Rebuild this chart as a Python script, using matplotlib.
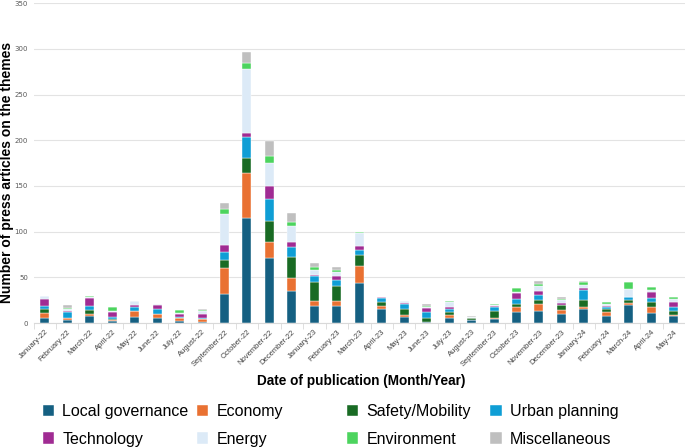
import matplotlib
matplotlib.use("Agg")
import matplotlib.pyplot as plt
from matplotlib import font_manager
import numpy as np

# meses de publicacion
meses = ["January-22", "February-22", "March-22", "April-22", "May-22", "June-22",
         "July-22", "August-22", "September-22", "October-22", "November-22",
         "December-22", "January-23", "February-23", "March-23", "April-23",
         "May-23", "June-23", "July-23", "August-23", "September-23",
         "October-23", "November-23", "December-23", "January-24",
         "February-24", "March-24", "April-24", "May-24"]

temas = ["Local governance", "Economy", "Safety/Mobility", "Urban planning",
         "Technology", "Energy", "Environment", "Miscellaneous"]

local_governance = [5, 3, 8, 2, 7, 6, 2, 1, 32, 115, 71, 35, 19, 19, 44, 15, 7, 1, 6, 3, 4, 12, 13, 10, 15, 8, 20, 11, 8]
economy = [6, 2, 2, 1, 6, 4, 3, 3, 28, 49, 18, 14, 5, 5, 18, 4, 2, 0, 3, 0, 2, 6, 8, 4, 2, 4, 2, 7, 1]
safety_mobility = [4, 1, 4, 1, 0, 0, 1, 0, 9, 17, 23, 23, 21, 16, 12, 4, 6, 4, 3, 3, 7, 3, 4, 6, 8, 3, 3, 5, 4]
urban_planning = [4, 6, 5, 3, 5, 5, 1, 2, 9, 22, 24, 11, 6, 7, 6, 4, 6, 7, 3, 0, 5, 5, 6, 0, 11, 2, 3, 4, 5]
technology = [7, 1, 8, 5, 2, 5, 3, 4, 7, 5, 14, 6, 1, 4, 4, 1, 1, 4, 3, 0, 1, 7, 4, 2, 2, 2, 1, 7, 5]
energy = [4, 2, 1, 1, 4, 1, 1, 3, 34, 70, 25, 17, 6, 5, 15, 0, 2, 2, 5, 1, 1, 1, 6, 3, 4, 2, 8, 2, 3]
environment = [0, 1, 2, 4, 0, 0, 3, 1, 6, 6, 8, 4, 3, 2, 1, 0, 0, 1, 1, 0, 1, 4, 2, 1, 3, 2, 8, 3, 3]
miscellaneous = [0, 4, 0, 0, 0, 0, 0, 1, 6, 12, 16, 10, 5, 3, 0, 0, 0, 2, 0, 1, 0, 0, 3, 3, 1, 0, 0, 0, 0]

series = [local_governance, economy, safety_mobility, urban_planning,
          technology, energy, environment, miscellaneous]
colores = ["#156082", "#e97132", "#196b24", "#0f9ed5",
           "#a02b93", "#dceaf7", "#4cd45e", "#bfbfbf"]


def hay_fuente(nombre):
    try:
        font_manager.findfont(font_manager.FontProperties(family=nombre),
                              fallback_to_default=False)
        return True
    except Exception:
        return False


fuente = "Liberation Sans" if hay_fuente("Liberation Sans") else "DejaVu Sans"

fig = plt.figure(figsize=(6.85, 4.48), dpi=100)
ax = fig.add_axes([0.049, 0.279, 0.951, 0.714])

x = np.arange(len(meses))
base = np.zeros(len(meses))
barras = []
for nombre, valores, color in zip(temas, series, colores):
    valores = np.array(valores, dtype=float)
    b = ax.bar(x, valores, 0.4, bottom=base, color=color, label=nombre,
               edgecolor="white", linewidth=0.3)
    barras.append(b)
    base += valores

ax.set_xlim(-0.5, len(meses) - 0.5)
ax.set_ylim(0, 350)
ax.set_yticks(np.arange(0, 351, 50))
ax.yaxis.grid(True, color="#e3e3e3", linewidth=0.8)
ax.set_axisbelow(True)
for s in ["top", "right", "left"]:
    ax.spines[s].set_visible(False)
ax.spines["bottom"].set_color("#d9d9d9")

ax.tick_params(axis="y", length=0, labelsize=5, labelcolor="#595959", pad=4)
ax.set_xticks(x)
ax.set_xticklabels(meses, rotation=45, ha="right", rotation_mode="anchor",
                   fontsize=5.5, color="#404040", family=fuente)
ax.set_xticks(np.arange(-0.5, len(meses), 1), minor=True)
ax.tick_params(axis="x", which="major", length=0, pad=4)
ax.tick_params(axis="x", which="minor", length=4, color="#d9d9d9")

fig.text(0.0095, 0.616, "Number of press articles on the themes", rotation=90,
         ha="center", va="center", fontsize=10, fontweight="bold", family=fuente)
fig.text(0.527, 0.150, "Date of publication (Month/Year)", ha="center",
         va="center", fontsize=9.8, fontweight="bold", family=fuente)

# leyenda en 4 columnas de ancho fijo, como en Excel
cols_x = [0.063, 0.288, 0.507, 0.716]
for i, cx in enumerate(cols_x):
    fig.legend([barras[i], barras[i + 4]], [temas[i], temas[i + 4]],
               loc="center left", bbox_to_anchor=(cx, 0.051),
               frameon=False, prop={"family": fuente, "size": 11.5},
               handlelength=0.7, handleheight=0.7, handletextpad=0.5,
               labelspacing=0.8, borderpad=0, borderaxespad=0)

fig.savefig("out.png", dpi=100)
